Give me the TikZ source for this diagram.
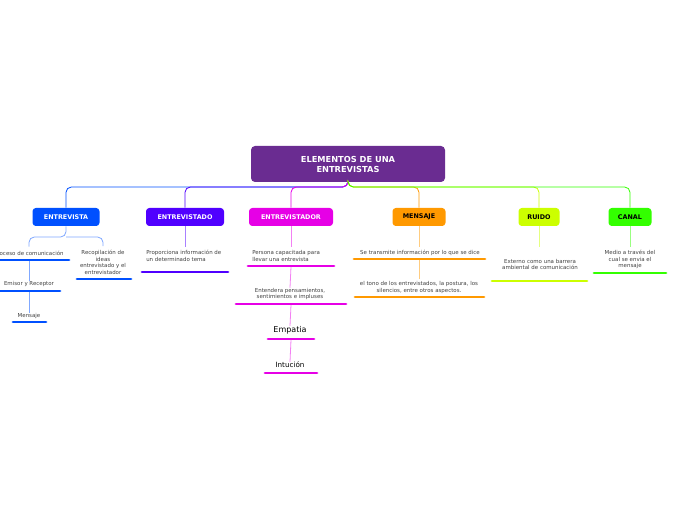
\documentclass[tikz,border=0pt]{standalone}
\usepackage{fontspec}
\setmainfont{DejaVu Sans}
\definecolor{cRoot}{HTML}{6A2C91}
\definecolor{cA}{HTML}{0050FF}
\definecolor{cB}{HTML}{5000FF}
\definecolor{cC}{HTML}{E600E6}
\definecolor{cD}{HTML}{FF9900}
\definecolor{cE}{HTML}{CCFF00}
\definecolor{cF}{HTML}{33FF00}
\begin{document}
\begin{tikzpicture}[x=0.75pt,y=-0.75pt,
 topic/.style={fill=#1,rounded corners=2.5pt,inner sep=0pt,font=\fontsize{4.8}{5.5}\selectfont\bfseries},
 sub/.style={inner sep=0pt,font=\fontsize{4.1}{5}\selectfont,align=center,text=black!75},
 bar/.style={#1,line width=2.2pt,line cap=round},
 lnk/.style={#1!50,line width=0.6pt},
 rl/.style={#1,line width=0.6pt,rounded corners=4pt}]
\useasboundingbox (0,0) rectangle (697,520);
\node[fill=cRoot,rounded corners=3pt,minimum width=194*0.75pt,minimum height=36*0.75pt,text=white,font=\fontsize{6.2}{7.5}\selectfont\bfseries,align=center] (root) at (348,164) {ELEMENTOS DE UNA\\ENTREVISTAS};
\node[topic=cA,text=white,minimum width=67*0.75pt,minimum height=18*0.75pt] (A) at (66,217) {ENTREVISTA};
\node[topic=cB,text=white,minimum width=78*0.75pt,minimum height=18*0.75pt] (B) at (185,217) {ENTREVISTADO};
\node[topic=cC,text=white,minimum width=84*0.75pt,minimum height=18*0.75pt] (C) at (291,217) {ENTREVISTADOR};
\node[topic=cD,text=black,minimum width=53*0.75pt,minimum height=18*0.75pt] (D) at (419,217) {MENSAJE};
\node[topic=cE,text=black,minimum width=41*0.75pt,minimum height=18*0.75pt] (E) at (539,217) {RUIDO};
\node[topic=cF,text=black,minimum width=43*0.75pt,minimum height=18*0.75pt] (F) at (630,217) {CANAL};
\coordinate (r0) at (348,187);
\foreach \n/\c in {A/cA,B/cB,C/cC,D/cD,E/cE,F/cF}{
 \draw[rl=\c] (root.south) -- (r0) -| (\n.north);}
% ENTREVISTA
\node[sub] (a1) at (29,253) {Proceso de comunicación};
\node[sub] (a2) at (103,262.5) {Recopilación de\\ideas\\entrevistado y el\\entrevistador};
\node[sub] (a3) at (29,284) {Emisor y Receptor};
\node[sub] (a4) at (29,316) {Mensaje};
\coordinate (aj) at (66,237);
\draw[rl=cA!50] (A.south) -- (aj) -| ([yshift=3pt]a1.north);
\draw[rl=cA!50] (aj) -| ([yshift=3pt]a2.north);
\draw[bar=cA] (0,260) -- (69,260);
\draw[bar=cA] (77,279) -- (131,279);
\draw[bar=cA] (0,291) -- (60,291);
\draw[bar=cA] (13,322) -- (46,322);
\draw[lnk=cA] (29,261) -- (a3.north);
\draw[lnk=cA] (29,292) -- (a4.north);
% ENTREVISTADO
\node[sub,align=left,anchor=north west] (b1) at (146,250) {Proporciona información de\\un determinado tema};
\draw[lnk=cB] (B.south) -- (185,247);
\draw[bar=cB] (142,272) -- (228,272);
% ENTREVISTADOR
\node[sub,align=left,anchor=north west] (c1) at (252,250) {Persona capacitada para\\llevar una entrevista};
\node[sub] (c2) at (290,294) {Entendera pensamientos,\\sentimientos e impluses};
\node[inner sep=0pt,font=\fontsize{6}{7}\selectfont] (c3) at (290,330) {Empatia};
\node[inner sep=0pt,font=\fontsize{5.4}{7}\selectfont] (c4) at (290,365) {Intución};
\draw[lnk=cC] (C.south) -- (291,247);
\draw[bar=cC] (248,266) -- (334,266);
\draw[bar=cC] (236,304) -- (346,304);
\draw[bar=cC] (268,339) -- (314,339);
\draw[bar=cC] (265,373) -- (317,373);
\draw[lnk=cC] (291,267) -- (c2.north);
\draw[lnk=cC] (291,305) -- (c3.north);
\draw[lnk=cC] (291,340) -- (c4.north);
% MENSAJE
\node[sub] (d1) at (420,253) {Se transmite información por lo que se dice};
\node[sub] (d2) at (419,287.5) {el tono de los entrevistados, la postura, los\\silencios, entre otros aspectos.};
\draw[lnk=cD] (D.south) -- (419,247);
\draw[bar=cD] (354,259) -- (485,259);
\draw[bar=cD] (355,297) -- (484,297);
\draw[lnk=cD] (419,260) -- (419,279);
% RUIDO
\node[sub] (e1) at (540,264.5) {Externo como una barrera\\ambiental de comunicación};
\draw[lnk=cE] (E.south) -- (539,247);
\draw[bar=cE] (492,281) -- (587,281);
% CANAL
\node[sub] (f1) at (630,259.5) {Medio a través del\\cual se envia el\\mensaje};
\draw[lnk=cF] (F.south) -- (630,247);
\draw[bar=cF] (594,273) -- (666,273);
\end{tikzpicture}
\end{document}
